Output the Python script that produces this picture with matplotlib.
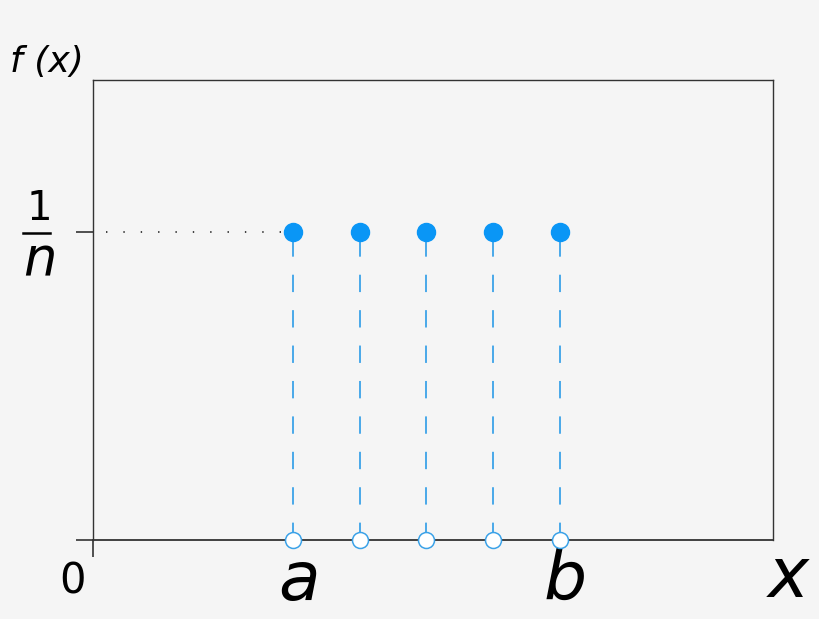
import matplotlib
matplotlib.use("Agg")
import matplotlib.pyplot as plt

plt.rcParams['lines.scale_dashes'] = False

# data
support = [3, 4, 5, 6, 7]          # x positions of the n outcomes (a ... b)
pmf = [1, 1, 1, 1, 1]              # 1/n for each outcome
zeros = [0, 0, 0, 0, 0]
xlabels = {3: "a", 7: "b"}

W, H = 820, 619
bg = "#f5f5f5"
fig = plt.figure(figsize=(W / 100, H / 100), dpi=100, facecolor=bg)
ax = fig.add_axes([93 / W, 1 - 540 / H, (773 - 93) / W, (540 - 80) / H])
ax.set_facecolor(bg)
ax.set_xlim(0, 10.2)
ax.set_ylim(0, 1.494)

for s in ax.spines.values():
    s.set_color("#333333")
    s.set_linewidth(1.0)
ax.spines['bottom'].set_linewidth(1.3)

ax.set_xticks([0])
ax.set_yticks([0, 1])
ax.set_xticklabels([])
ax.set_yticklabels([])
ax.tick_params(axis='both', direction='out', length=12.5, width=1.1, color="#222222")

blue_dot = "#0a96f6"
blue_line = "#3ba2e8"

# dotted guide at 1/n
ax.plot([0.2, support[0]], [pmf[0], pmf[0]], color="#333333", lw=1.3,
        linestyle=(0, (1, 11.5)), zorder=2)

for xv, yv, z in zip(support, pmf, zeros):
    ax.plot([xv, xv], [z, yv], color=blue_line, lw=1.3, dashes=(12.5, 13),
            zorder=3)
ax.plot(support, pmf, 'o', ms=13, color=blue_dot, mec=blue_dot, zorder=5)
ax.plot(support, zeros, 'o', ms=11.5, mfc="white", mec=blue_line, mew=1.1,
        zorder=5, clip_on=False)

def px(x, y):
    return x / W, 1 - y / H

# x labels
for xv, lab in xlabels.items():
    ax.annotate(lab, xy=(xv, 0), xytext=(4, -43), textcoords='offset points',
                ha='center', va='baseline', fontsize=49, style='italic',
                family='DejaVu Sans', annotation_clip=False)
fig.text(*px(788, 597), "x", ha='center', va='baseline', fontsize=50,
         style='italic', family='DejaVu Sans')
fig.text(*px(73, 594), "0", ha='center', va='baseline', fontsize=30,
         family='DejaVu Sans')

# y labels
fig.text(*px(47, 72), "f (x)", ha='center', va='baseline', fontsize=26,
         style='italic', family='DejaVu Sans')
fig.text(*px(39, 220), "1", ha='center', va='baseline', fontsize=29,
         family='DejaVu Sans')
fig.add_artist(plt.Line2D([23 / W, 50 / W], [1 - 233 / H, 1 - 233 / H],
                          color="black", lw=1.8))
fig.text(*px(40, 275), "n", ha='center', va='baseline', fontsize=38,
         style='italic', family='DejaVu Sans')

fig.savefig("out.png", dpi=100, facecolor=bg)
